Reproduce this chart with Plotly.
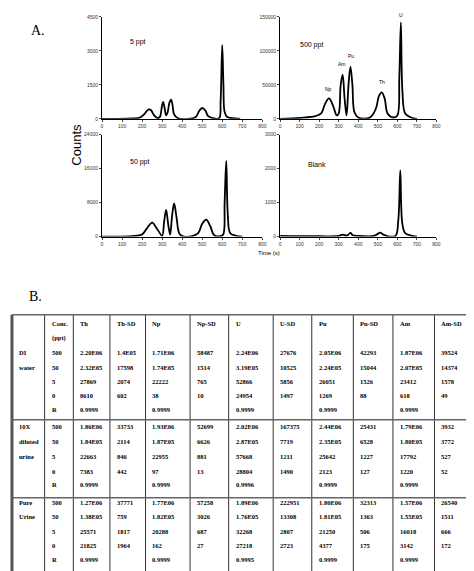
import plotly.graph_objects as go

# ---- chromatogram data ----
t_5ppt = [0, 150, 190, 210, 225, 235, 245, 260, 280, 290, 298, 305, 312, 320, 328, 336, 345, 352, 360, 380,
          450, 470, 485, 500, 515, 530, 560, 585, 592, 600, 606, 612, 625, 650, 690]
c_5ppt = [0, 20, 60, 200, 360, 420, 380, 150, 30, 100, 500, 750, 500, 150, 300, 700, 850, 600, 200, 20,
          20, 100, 350, 480, 380, 120, 20, 30, 800, 3250, 1500, 300, 80, 30, 0]

t_500ppt = [0, 100, 180, 210, 230, 250, 270, 290, 300, 310, 320, 330, 340, 350, 360, 370, 380, 400, 460, 490,
            505, 520, 535, 550, 580, 600, 610, 618, 626, 640, 670, 700]
c_500ppt = [0, 1500, 4000, 8000, 22000, 30000, 20000, 5000, 8000, 50000, 65000, 30000, 5000, 50000, 77000, 50000,
            10000, 2000, 2000, 15000, 33000, 39000, 30000, 8000, 2000, 5000, 60000, 142000, 40000, 8000, 2000, 0]

t_50ppt = [0, 150, 200, 225, 250, 275, 300, 310, 320, 330, 340, 350, 360, 372, 385, 400, 450, 480, 500, 520,
           540, 560, 590, 605, 612, 620, 628, 640, 670, 700]
c_50ppt = [0, 100, 500, 2000, 3300, 1800, 200, 3500, 6300, 3000, 500, 5000, 7800, 4500, 800, 100, 100, 800, 3000,
           4000, 2500, 300, 100, 500, 8000, 17800, 5000, 800, 200, 0]

t_blank = [0, 200, 300, 320, 340, 350, 360, 372, 400, 480, 500, 512, 525, 545, 590, 605, 615, 625, 640, 670, 700]
c_blank = [20, 10, 20, 60, 30, 60, 110, 40, 20, 20, 80, 120, 70, 20, 20, 500, 1950, 400, 100, 30, 0]

peak_names = ["Np", "Am", "Pu", "Th", "U"]
peak_t = [250, 318, 362, 520, 618]
peak_c = [37000, 73000, 85000, 47000, 146000]

# ---- table data ----
header = ["", "Conc.<br>(ppt)", "Th", "Th-SD", "Np", "Np-SD", "U", "U-SD", "Pu", "Pu-SD", "Am", "Am-SD"]
groups = ["DI<br>water", "10X<br>diluted<br>urine", "Pure<br>Urine"]
conc = ["500", "50", "5", "0", "R"]
di_water = [
    ["2.20E06", "2.32E05", "27869", "8610", "0.9999"],
    ["1.4E05", "17598", "2074", "602", ""],
    ["1.71E06", "1.74E05", "22222", "38", "0.9999"],
    ["58487", "1514", "765", "10", ""],
    ["2.24E06", "3.19E05", "52866", "24954", "0.9999"],
    ["27676", "10525", "5856", "1497", ""],
    ["2.05E06", "2.24E05", "26051", "1269", "0.9999"],
    ["42293", "15044", "1526", "88", ""],
    ["1.87E06", "2.07E05", "23412", "618", "0.9999"],
    ["39524", "14374", "1578", "49", ""],
]
diluted_urine = [
    ["1.86E06", "1.84E05", "22663", "7383", "0.9999"],
    ["33733", "2114", "846", "442", ""],
    ["1.93E06", "1.87E05", "22955", "97", "0.9999"],
    ["52699", "6626", "881", "13", ""],
    ["2.02E06", "2.87E05", "57668", "28804", "0.9996"],
    ["167375", "7719", "1211", "1490", ""],
    ["2.44E06", "2.35E05", "25642", "2123", "0.9999"],
    ["25431", "6528", "1227", "127", ""],
    ["1.79E06", "1.80E05", "17792", "1220", "0.9999"],
    ["3932", "3772", "527", "52", ""],
]
pure_urine = [
    ["1.27E06", "1.38E05", "25571", "21825", "0.9999"],
    ["37771", "759", "1817", "1964", ""],
    ["1.77E06", "1.82E05", "20288", "162", "0.9999"],
    ["57258", "3026", "687", "27", ""],
    ["1.89E06", "1.76E05", "32268", "27218", "0.9995"],
    ["222951", "13308", "2807", "2723", ""],
    ["1.80E06", "1.81E05", "21250", "4377", "0.9999"],
    ["32313", "1363", "506", "175", ""],
    ["1.57E06", "1.55E05", "16018", "3142", "0.9999"],
    ["26540", "1511", "666", "172", ""],
]

W, H = 474, 571
fig = go.Figure()

panels = [
    (t_5ppt, c_5ppt, "x", "y", [0, 4500], [0, 1500, 3000, 4500], "5 ppt", 3400),
    (t_500ppt, c_500ppt, "x2", "y2", [0, 150000], [0, 50000, 100000, 150000], "500 ppt", 109000),
    (t_50ppt, c_50ppt, "x3", "y3", [0, 24000], [0, 8000, 16000, 24000], "50 ppt", 17500),
    (t_blank, c_blank, "x4", "y4", [0, 3000], [0, 1000, 2000, 3000], "Blank", 2130),
]
xdoms = [[94 / W, 256 / W], [274 / W, 432 / W]]
ydoms = [[1 - 109 / H, 1 - 6 / H], [1 - 228 / H, 1 - 125 / H]]
tickfont = dict(family="Arial", size=5, color="#333")
for i, (tt, cc, xa, ya, yr, yt, label, ly) in enumerate(panels):
    fig.add_trace(go.Scatter(x=tt, y=cc, xaxis=xa, yaxis=ya, mode="lines", line_shape="spline",
                             line=dict(color="black", width=1.8), showlegend=False))
    sfx = "" if i == 0 else str(i + 1)
    fig.layout["xaxis" + sfx] = dict(domain=xdoms[i % 2], range=[0, 800], dtick=100, anchor="y" + sfx,
                                     showgrid=False, zeroline=False, showline=True, linecolor="black",
                                     linewidth=1, ticks="outside", ticklen=2, tickfont=tickfont)
    fig.layout["yaxis" + sfx] = dict(domain=ydoms[i // 2], range=yr, tickvals=yt, tickformat="d",
                                     anchor="x" + sfx, showgrid=False, zeroline=False, showline=True,
                                     linecolor="black", linewidth=1, ticks="outside", ticklen=2,
                                     tickfont=tickfont)
    fig.add_annotation(x=130 if i != 1 else 91, y=ly, xref=xa, yref=ya, text=label, showarrow=False,
                       xanchor="left", font=dict(family="Arial", size=7, color="black"))

for n, px, pc in zip(peak_names, peak_t, peak_c):
    fig.add_annotation(x=px, y=pc, xref="x2", yref="y2", text=n, showarrow=False, yanchor="bottom",
                       font=dict(family="Arial", size=5, color="black"))

fig.add_annotation(x=59 / W, y=1 - 112 / H, xref="paper", yref="paper", text="Counts", textangle=-90,
                   showarrow=False, font=dict(family="Arial", size=13, color="black"))
fig.add_annotation(x=263 / W, y=1 - 245 / H, xref="paper", yref="paper", text="Time (s)",
                   showarrow=False, font=dict(family="Arial", size=6, color="black"))
serif = "Liberation Serif"
fig.add_annotation(x=20 / W, y=1 - 10 / H, xref="paper", yref="paper", text="A.", showarrow=False,
                   xanchor="left", font=dict(family=serif, size=14, color="black"))
fig.add_annotation(x=18 / W, y=1 - 289 / H, xref="paper", yref="paper", text="B.", showarrow=False,
                   xanchor="left", font=dict(family=serif, size=14, color="black"))

# ---- table, drawn in paper pixels ----
shapes = []
col_x = [3, 36, 65, 102, 138, 183, 222, 267, 306, 348, 388, 430, 471]
top, bottom = 307, 568
sep = [413, 492]


def py(v):
    return 1 - v / H


for k, cx in enumerate(col_x):
    shapes.append(dict(type="line", xref="paper", yref="paper", x0=cx / W, x1=cx / W, y0=py(top), y1=py(bottom),
                       line=dict(color="#555" if k == 0 else "#333", width=3 if k == 0 else 1)))
for hy in [top] + sep + [bottom]:
    shapes.append(dict(type="line", xref="paper", yref="paper", x0=col_x[0] / W, x1=col_x[-1] / W,
                       y0=py(hy), y1=py(hy), line=dict(color="#666", width=1.5)))
fig.update_layout(shapes=shapes)

tfont = dict(family=serif, size=6.5, color="black")


def cell(xpx, ypx, txt):
    fig.add_annotation(x=(xpx + 5) / W, y=py(ypx), xref="paper", yref="paper", text="<b>" + txt + "</b>",
                       showarrow=False, xanchor="left", yanchor="middle", align="left", font=tfont)


cell(col_x[1], 316, "Conc.")
cell(col_x[1], 330, "(ppt)")
for j in range(2, len(header)):
    cell(col_x[j], 316, header[j])

block_rows = [[345, 360, 374, 389, 403], [420, 435, 450, 465, 479], [497, 511, 526, 540, 554]]
blocks = [di_water, diluted_urine, pure_urine]
for g, rows, vals in zip(groups, block_rows, blocks):
    for li, part in enumerate(g.split("<br>")):
        cell(col_x[0], rows[li], part)
    for r, yv in enumerate(rows):
        cell(col_x[1], yv, conc[r])
        for j, col in enumerate(vals):
            if col[r]:
                cell(col_x[j + 2], yv, col[r])

fig.update_layout(width=W, height=H, margin=dict(l=0, r=0, t=0, b=0),
                  plot_bgcolor="white", paper_bgcolor="white")
fig.write_html("out.html")
